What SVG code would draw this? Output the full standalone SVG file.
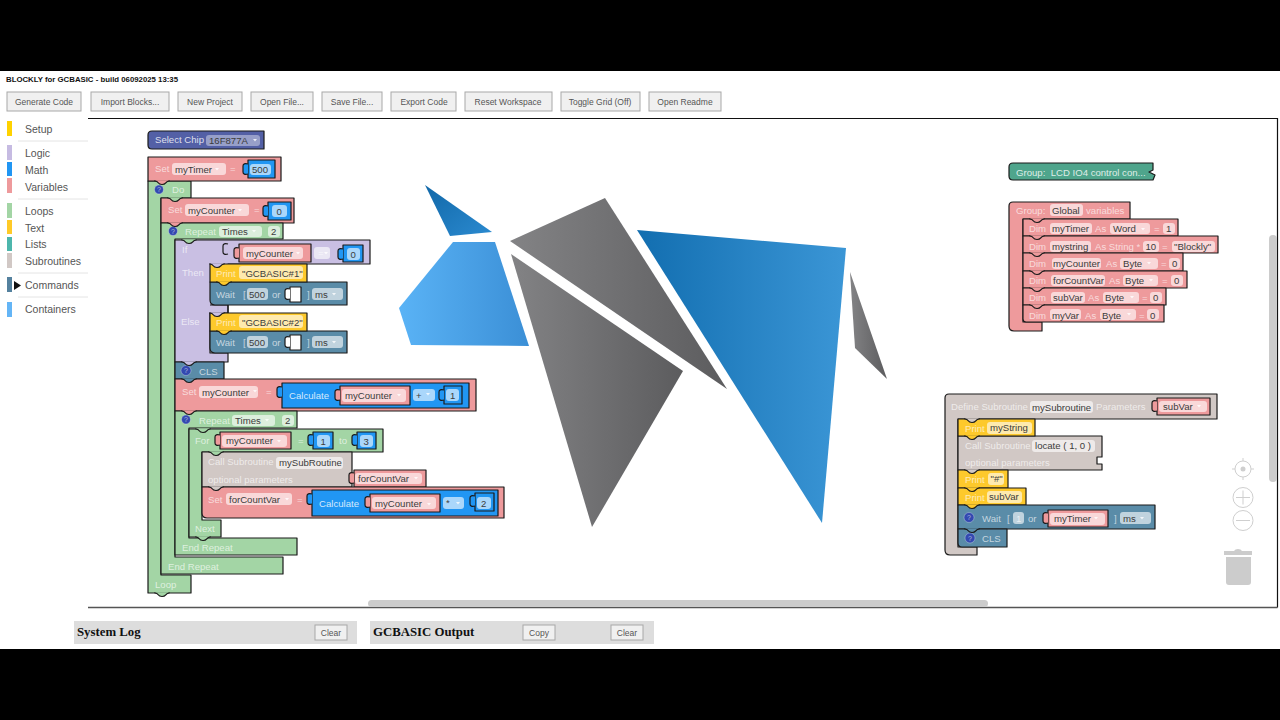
<svg xmlns="http://www.w3.org/2000/svg" width="1280" height="720" viewBox="0 0 1280 720">
<style>
text{font-family:"Liberation Sans",Arial,sans-serif;font-size:9.600px;fill:#3c3c3c}
.k{fill:#fff;fill-opacity:.66}
.c{fill:#fff;fill-opacity:.82}
.b{stroke:#1a1a1a;stroke-width:1.200;stroke-linejoin:round}
.red{fill:#ee9a9c}.grn{fill:#a3d5a5}.pur{fill:#c9bfe3}.yel{fill:#fdc92c}.tea{fill:#5a8ca8}.gry{fill:#d1c8c5}.blu{fill:#2196f3}.ind{fill:#5360a6}.grp{fill:#4fa58c}
.f{fill:#fff;fill-opacity:.62}
.btn{fill:#f0f0f0;stroke:#a8a8a8;stroke-width:1}
.bt{font-size:8.500px;fill:#555;text-anchor:middle}
.tb{font-size:10.500px;fill:#555}
.q{fill:#3349b0;stroke:#fff;stroke-opacity:.3}
.qt{font-size:7px;fill:#fff;fill-opacity:.6;text-anchor:middle}
.sw{width:5px}
.sep{stroke:#e4e4e4;stroke-width:1}
.ctl{fill:none;stroke:#cfcfcf;stroke-width:1}
.h{font-family:"Liberation Serif",serif;font-weight:bold;font-size:12.800px;fill:#111}
</style>
<defs>
<path id="tab" d="M0-.8V0c1.500 0 2.500.7 3.200 1.800S5.300 3.500 7 3.500s3-.7 3.800-1.700S12.500 0 14 0V-.8"/>
<path id="pz" d="M0-1C-3-2-5-1-5 1V7C-5 9-3 10 0 9"/>
<path id="ar" d="M0 0h4l-2 2.500z" fill="#fff" fill-opacity=".8" stroke="none"/>
<linearGradient id="gBlue" x1="0" x2="1" y1="0" y2="0"><stop offset="0" stop-color="#126eb0"/><stop offset="1" stop-color="#3b96d6"/></linearGradient>
<linearGradient id="gHead" x1="0" x2="1" y1="0" y2="0"><stop offset="0" stop-color="#5ab3f6"/><stop offset="1" stop-color="#3b8fd6"/></linearGradient>
<linearGradient id="gHorn" x1="0" x2="1" y1="0" y2="1"><stop offset="0" stop-color="#1168a8"/><stop offset="1" stop-color="#2b8ad0"/></linearGradient>
<linearGradient id="gGray" x1="0" x2="1" y1="0" y2="0"><stop offset="0" stop-color="#838385"/><stop offset="1" stop-color="#5c5c5e"/></linearGradient>
</defs>

<rect width="1280" height="720" fill="#000"/>
<rect y="71" width="1280" height="578" fill="#fff"/>
<text x="6" y="82" font-weight="bold" style="font-size:7.800px;fill:#111">BLOCKLY for GCBASIC - build 06092025 13:35</text>

<g id="toolbar">
<rect class="btn" x="7" y="92" width="74" height="19"/><text class="bt" x="44" y="105">Generate Code</text>
<rect class="btn" x="91" y="92" width="78" height="19"/><text class="bt" x="130" y="105">Import Blocks...</text>
<rect class="btn" x="178" y="92" width="64" height="19"/><text class="bt" x="210" y="105">New Project</text>
<rect class="btn" x="251" y="92" width="62" height="19"/><text class="bt" x="282" y="105">Open File...</text>
<rect class="btn" x="322" y="92" width="60" height="19"/><text class="bt" x="352" y="105">Save File...</text>
<rect class="btn" x="391" y="92" width="65" height="19"/><text class="bt" x="424" y="105">Export Code</text>
<rect class="btn" x="465" y="92" width="87" height="19"/><text class="bt" x="508" y="105">Reset Workspace</text>
<rect class="btn" x="561" y="92" width="79" height="19"/><text class="bt" x="600" y="105">Toggle Grid (Off)</text>
<rect class="btn" x="649" y="92" width="72" height="19"/><text class="bt" x="685" y="105">Open Readme</text>
</g>

<g id="workspace">
<rect x="88" y="118.500" width="1189.500" height="489" fill="#fff"/>
<path d="M88 118.500H1277.500V607.500" fill="none" stroke="#111" stroke-width="1.200"/>
<path d="M88 607.500H1277.500" fill="none" stroke="#555" stroke-width="1.500"/>
<rect x="368" y="600" width="620" height="7" rx="3.500" fill="#ccc"/>
<rect x="1269" y="235" width="8" height="247" rx="4" fill="#ccc"/>
</g>

<g id="toolbox">
<rect class="sw" x="7" y="121" height="15" fill="#ffd200"/><text class="tb" x="25" y="133">Setup</text>
<path class="sep" d="M18 141H88M18 199H88M18 273H88M18 297H88"/>
<rect class="sw" x="7" y="145" height="15" fill="#c6bbe2"/><text class="tb" x="25" y="157">Logic</text>
<rect class="sw" x="7" y="162" height="14" fill="#2196f3"/><text class="tb" x="25" y="174">Math</text>
<rect class="sw" x="7" y="178" height="15" fill="#ee9a9c"/><text class="tb" x="25" y="191">Variables</text>
<rect class="sw" x="7" y="203" height="15" fill="#a3d5a5"/><text class="tb" x="25" y="215">Loops</text>
<rect class="sw" x="7" y="220" height="14" fill="#ffca28"/><text class="tb" x="25" y="232">Text</text>
<rect class="sw" x="7" y="237" height="14" fill="#4db6ac"/><text class="tb" x="25" y="248">Lists</text>
<rect class="sw" x="7" y="253" height="15" fill="#d1c8c5"/><text class="tb" x="25" y="265">Subroutines</text>
<rect class="sw" x="7" y="277" height="15" fill="#54819e"/><path d="M14 281l7 4.500-7 4.500z" fill="#111"/><text class="tb" x="25" y="289">Commands</text>
<rect class="sw" x="7" y="302" height="15" fill="#64b5f6"/><text class="tb" x="25" y="313">Containers</text>
</g>

<g id="logo">
<polygon points="425,185 492,232 450,236" fill="url(#gHorn)"/>
<polygon points="453,242 495,242 529,346 411,345 399,308" fill="url(#gHead)"/>
<polygon points="605,198 727,389 510,241" fill="url(#gGray)"/>
<polygon points="511,254 683,371 592,527" fill="url(#gGray)"/>
<polygon points="637,230 846,248 822,523" fill="url(#gBlue)"/>
<polygon points="850,272 887,379 855,348" fill="url(#gGray)"/>
</g>

<g id="select-chip">
<path class="b ind" d="M152 131H264V149H152Q148 149 148 145V135Q148 131 152 131Z"/>
<text class="c" x="155" y="143">Select Chip</text>
<rect class="f" x="206" y="135" width="54" height="11" rx="3" style="fill-opacity:.4"/><text x="209" y="144">16F877A</text><use href="#ar" x="253" y="139"/>
</g>

<g id="do-loop">
<path class="b grn" d="M148 181H191V198H161V575H191V593H148Z"/>
<circle class="q" cx="159" cy="189.500" r="4.500"/><text class="qt" x="159" y="192">?</text>
<text class="k" x="172" y="193">Do</text>
<text class="k" x="155" y="588">Loop</text>
<use href="#tab" class="b grn" x="155" y="593"/>
</g>

<g id="set-mytimer">
<path class="b red" d="M148 157H281V181H148Z"/>
<text class="k" x="155" y="172">Set</text>
<rect class="f" x="172" y="163" width="54" height="12" rx="3"/><text x="175" y="172.500">myTimer</text><use href="#ar" x="215" y="168"/>
<text class="k" x="230" y="172">=</text>
<path class="b blu" d="M248 160H275V178H248Z"/><use href="#pz" class="b blu" x="248" y="165"/>
<rect class="f" x="250" y="164" width="21" height="11" rx="3"/><text x="252" y="173">500</text>
<use href="#tab" class="b red" x="155" y="181"/>
</g>

<g id="set-mycounter">
<path class="b red" d="M161 198H294V223H161Z"/>
<text class="k" x="168" y="213">Set</text>
<rect class="f" x="185" y="204" width="64" height="12" rx="3"/><text x="188" y="213.500">myCounter</text><use href="#ar" x="238" y="209"/>
<text class="k" x="254" y="213">=</text>
<path class="b blu" d="M268 202H291V220H268Z"/><use href="#pz" class="b blu" x="268" y="207"/>
<rect class="f" x="272" y="205" width="15" height="12" rx="3"/><text x="276.500" y="214.500">0</text>
<use href="#tab" class="b grn" x="168" y="198"/>
</g>

<g id="repeat-outer">
<path class="b grn" d="M161 223H283V239H175V557H283V574H161Z"/>
<circle class="q" cx="173" cy="231" r="4.500"/><text class="qt" x="173" y="233.500">?</text>
<text class="k" x="185" y="235">Repeat</text>
<rect class="f" x="219" y="226" width="43" height="11" rx="3"/><text x="222" y="235">Times</text><use href="#ar" x="252" y="230"/>
<rect class="f" x="268" y="226" width="12" height="11" rx="3"/><text x="271" y="235">2</text>
<text class="k" x="168" y="570">End Repeat</text>
<use href="#tab" class="b red" x="168" y="223"/>
</g>

<g id="if-else">
<path class="b pur" d="M175 240H370V264H228V306H228V313H210V353H228V362H175Z"/>
<text class="k" x="182" y="253">If</text>
<text class="k" x="182" y="276">Then</text>
<text class="k" x="181" y="325">Else</text>
<path d="M209 264H229V305H209Z" class="pur"/>
<path d="M210 305H228V313" fill="none" stroke="#1a1a1a" stroke-width="1.200"/>
<use href="#pz" class="b pur" x="228" y="245"/>
<path class="b red" d="M239 244H311V262H239Z"/><use href="#pz" class="b red" x="239" y="249"/>
<rect class="f" x="243" y="247" width="60" height="12" rx="3"/><text x="246" y="256.500">myCounter</text><use href="#ar" x="296" y="252"/>
<rect class="f" x="314" y="247" width="16" height="12" rx="3"/><text class="k" x="318" y="256">=</text><use href="#ar" x="324" y="252"/>
<path class="b blu" d="M343 245H363V262H343Z"/><use href="#pz" class="b blu" x="343" y="250"/>
<rect class="f" x="347" y="248" width="13" height="12" rx="3"/><text x="350.500" y="257.500">0</text>
<use href="#tab" class="b grn" x="182" y="240"/>
</g>

<g id="wait-1">
<path class="b tea" d="M210 282H347V305H215Q210 305 210 300Z"/>
<text class="k" x="216" y="298">Wait</text><text class="k" x="243" y="298">[</text>
<rect class="f" x="247" y="288" width="21" height="12" rx="3"/><text x="249" y="297.500">500</text>
<text class="k" x="272" y="298">or</text>
<path class="b" fill="#fff" d="M290 287H301V302H290Z"/><use href="#pz" class="b" fill="#fff" x="290" y="290"/>
<text class="k" x="307" y="298">]</text>
<rect class="f" x="312" y="288" width="31" height="12" rx="3"/><text x="315" y="297.500">ms</text><use href="#ar" x="332" y="293"/>
</g>
<g id="print-1">
<path class="b yel" d="M210 264H307V282H210Z"/>
<text class="k" x="216" y="277">Print</text>
<rect class="f" x="239" y="266" width="64" height="13" rx="3"/><text x="242" y="276.500">"GCBASIC#1"</text>
<use href="#tab" class="b yel" x="217" y="282"/>
<use href="#tab" class="b pur" x="210" y="264"/>
</g>

<g id="wait-2">
<path class="b tea" d="M210 331H347V353H215Q210 353 210 348Z"/>
<text class="k" x="216" y="346">Wait</text><text class="k" x="243" y="346">[</text>
<rect class="f" x="247" y="336" width="21" height="12" rx="3"/><text x="249" y="345.500">500</text>
<text class="k" x="272" y="346">or</text>
<path class="b" fill="#fff" d="M290 335H301V350H290Z"/><use href="#pz" class="b" fill="#fff" x="290" y="338"/>
<text class="k" x="307" y="346">]</text>
<rect class="f" x="312" y="336" width="31" height="12" rx="3"/><text x="315" y="345.500">ms</text><use href="#ar" x="332" y="341"/>
</g>
<g id="print-2">
<path class="b yel" d="M210 313H307V331H210Z"/>
<text class="k" x="216" y="326">Print</text>
<rect class="f" x="239" y="315" width="64" height="13" rx="3"/><text x="242" y="325.500">"GCBASIC#2"</text>
<use href="#tab" class="b yel" x="217" y="331"/>
<use href="#tab" class="b pur" x="210" y="313"/>
</g>

<g id="cls-1">
<path class="b tea" d="M175 362H224V379H175Z"/>
<circle class="q" cx="186" cy="370.500" r="5"/><text class="qt" x="186" y="373">?</text>
<text class="k" x="199" y="374.500">CLS</text>
<use href="#tab" class="b pur" x="182" y="362"/>
</g>

<g id="set-mycounter-calc">
<path class="b red" d="M175 379H476V411H175Z"/>
<text class="k" x="182" y="395">Set</text>
<rect class="f" x="199" y="386" width="59" height="12" rx="3"/><text x="202" y="395.500">myCounter</text><use href="#ar" x="253" y="390"/>
<text class="k" x="266" y="395">=</text>
<path class="b blu" d="M282 383H469V408H282Z"/><use href="#pz" class="b blu" x="282" y="388"/>
<text class="c" x="289" y="399">Calculate</text>
<path class="b red" d="M340 386H410V405H340Z"/><use href="#pz" class="b red" x="340" y="391"/>
<rect class="f" x="342" y="389" width="64" height="13" rx="3"/><text x="345" y="399">myCounter</text><use href="#ar" x="397" y="394"/>
<rect class="f" x="413" y="389" width="22" height="12" rx="3"/><text x="416" y="398.500">+</text><use href="#ar" x="426" y="393"/>
<path class="b blu" d="M444 386H462V404H444Z"/><use href="#pz" class="b blu" x="444" y="391"/>
<rect class="f" x="446" y="389" width="13" height="12" rx="3"/><text x="450" y="398.500">1</text>
<use href="#tab" class="b tea" x="182" y="379"/>
</g>

<g id="repeat-inner">
<path class="b grn" d="M175 411H297V428H189V538H297V555H175Z"/>
<circle class="q" cx="186" cy="419.500" r="4.500"/><text class="qt" x="186" y="422">?</text>
<text class="k" x="199" y="423.500">Repeat</text>
<rect class="f" x="232" y="415" width="43" height="11" rx="3"/><text x="235" y="424">Times</text><use href="#ar" x="265" y="419"/>
<rect class="f" x="282" y="415" width="12" height="11" rx="3"/><text x="285" y="424">2</text>
<text class="k" x="182" y="551">End Repeat</text>
<use href="#tab" class="b red" x="182" y="411"/>
</g>

<g id="for-next">
<path class="b grn" d="M189 429H383V452H202V520H221V537H189Z"/>
<text class="k" x="195" y="444">For</text>
<path class="b red" d="M220 432H291V449H220Z"/><use href="#pz" class="b red" x="220" y="436"/>
<rect class="f" x="222" y="435" width="65" height="12" rx="3"/><text x="226" y="444">myCounter</text><use href="#ar" x="277" y="440"/>
<text class="k" x="298" y="444">=</text>
<path class="b blu" d="M313 432H333V449H313Z"/><use href="#pz" class="b blu" x="313" y="436"/>
<rect class="f" x="317" y="435" width="13" height="12" rx="3"/><text x="320.500" y="444.500">1</text>
<text class="k" x="339" y="444">to</text>
<path class="b blu" d="M357 432H376V449H357Z"/><use href="#pz" class="b blu" x="357" y="436"/>
<rect class="f" x="360" y="435" width="13" height="12" rx="3"/><text x="363.500" y="444.500">3</text>
<text class="k" x="195" y="532">Next</text>
<use href="#tab" class="b grn" x="196" y="429"/>
<use href="#tab" class="b grn" x="196" y="537"/>
</g>

<g id="call-mysubroutine">
<path class="b gry" d="M202 452H352V487H202Z"/>
<text class="k" x="208" y="465">Call Subroutine</text>
<rect class="f" x="276" y="457" width="67" height="12" rx="3"/><text x="279" y="466">mySubRoutine</text>
<text class="k" x="208" y="483">optional parameters</text>
<path class="b red" d="M354 470H426V487H354Z"/><use href="#pz" class="b red" x="354" y="474"/>
<rect class="f" x="355" y="473" width="67" height="11" rx="3"/><text x="358" y="482">forCountVar</text><use href="#ar" x="414" y="477"/>
<use href="#tab" class="b grn" x="209" y="452"/>
</g>

<g id="set-forcountvar">
<path class="b red" d="M202 487H504V518H207Q202 518 202 513Z"/>
<text class="k" x="208" y="503">Set</text>
<rect class="f" x="226" y="493" width="66" height="12" rx="3"/><text x="229" y="502.500">forCountVar</text><use href="#ar" x="285" y="498"/>
<text class="k" x="297" y="503">=</text>
<path class="b blu" d="M312 490H498V516H312Z"/><use href="#pz" class="b blu" x="312" y="495"/>
<text class="c" x="319" y="506.500">Calculate</text>
<path class="b red" d="M370 494H440V512H370Z"/><use href="#pz" class="b red" x="370" y="498"/>
<rect class="f" x="372" y="497" width="64" height="12" rx="3"/><text x="375" y="506.500">myCounter</text><use href="#ar" x="427" y="503"/>
<rect class="f" x="443" y="497" width="21" height="12" rx="3"/><text x="446" y="506">*</text><use href="#ar" x="456" y="502"/>
<path class="b blu" d="M475 493H494V511H475Z"/><use href="#pz" class="b blu" x="475" y="497"/>
<rect class="f" x="477" y="497" width="14" height="12" rx="3"/><text x="481" y="506.500">2</text>
<use href="#tab" class="b gry" x="209" y="487"/>
</g>

<g id="group-lcd">
<path class="b grp" d="M1013 163H1153V170L1149 172L1155 175L1153 180H1013Q1009 180 1009 176V167Q1009 163 1013 163Z"/>
<text class="c" x="1016" y="175.500" style="white-space:pre">Group:  LCD IO4 control con...</text>
</g>

<g id="group-global">
<path class="b red" d="M1013 202H1130V219H1023V322H1042V331H1014Q1009 331 1009 326V206Q1009 202 1013 202Z"/>
<text class="k" x="1016" y="214">Group:</text>
<rect class="f" x="1050" y="204" width="33" height="12" rx="3"/><text x="1052" y="213.500">Global</text>
<text class="k" x="1086" y="214">variables</text>
</g>
<g id="dim-mytimer">
<path class="b red" d="M1023 219H1178V236H1023Z"/><text class="k" x="1029" y="232">Dim</text>
<rect class="f" x="1050" y="223" width="42" height="11" rx="3"/><text x="1052" y="232">myTimer</text><text class="k" x="1095" y="232">As</text>
<rect class="f" x="1110" y="223" width="40" height="11" rx="3"/><text x="1113" y="232">Word</text><use href="#ar" x="1141" y="228"/><text class="k" x="1154" y="232">=</text>
<rect class="f" x="1163" y="223" width="12" height="11" rx="3"/><text x="1166" y="232">1</text>
<use href="#tab" class="b red" x="1030" y="219"/>
</g>
<g id="dim-mystring">
<path class="b red" d="M1023 236H1218V253H1023Z"/><text class="k" x="1029" y="249.500">Dim</text>
<rect class="f" x="1050" y="241" width="41" height="11" rx="3"/><text x="1052" y="250">mystring</text><text class="k" x="1095" y="249.500">As String *</text>
<rect class="f" x="1143" y="241" width="16" height="11" rx="3"/><text x="1145.500" y="250">10</text><text class="k" x="1162" y="249.500">=</text>
<rect class="f" x="1172" y="241" width="43" height="11" rx="3"/><text x="1174" y="250">"Blockly"</text>
<use href="#tab" class="b red" x="1030" y="236"/>
</g>
<g id="dim-mycounter">
<path class="b red" d="M1023 253H1183V271H1023Z"/><text class="k" x="1029" y="266.500">Dim</text>
<rect class="f" x="1052" y="258" width="49" height="11" rx="3"/><text x="1053" y="267">myCounter</text><text class="k" x="1106" y="266.500">As</text>
<rect class="f" x="1120" y="258" width="38" height="11" rx="3"/><text x="1123" y="267">Byte</text><use href="#ar" x="1147" y="262"/><text class="k" x="1161" y="266.500">=</text>
<rect class="f" x="1169" y="258" width="11" height="11" rx="3"/><text x="1172" y="267">0</text>
<use href="#tab" class="b red" x="1030" y="253"/>
</g>
<g id="dim-forcountvar">
<path class="b red" d="M1023 271H1187V288H1023Z"/><text class="k" x="1029" y="284">Dim</text>
<rect class="f" x="1051" y="275" width="54" height="11" rx="3"/><text x="1053" y="284">forCountVar</text><text class="k" x="1109" y="284">As</text>
<rect class="f" x="1123" y="275" width="35" height="11" rx="3"/><text x="1125" y="284">Byte</text><use href="#ar" x="1149" y="279"/><text class="k" x="1162" y="284">=</text>
<rect class="f" x="1171" y="275" width="12" height="11" rx="3"/><text x="1174" y="284">0</text>
<use href="#tab" class="b red" x="1030" y="271"/>
</g>
<g id="dim-subvar">
<path class="b red" d="M1023 288H1166V305H1023Z"/><text class="k" x="1029" y="301">Dim</text>
<rect class="f" x="1051" y="292" width="34" height="11" rx="3"/><text x="1053" y="301">subVar</text><text class="k" x="1088" y="301">As</text>
<rect class="f" x="1103" y="292" width="36" height="11" rx="3"/><text x="1105" y="301">Byte</text><use href="#ar" x="1130" y="296"/><text class="k" x="1142" y="301">=</text>
<rect class="f" x="1150" y="292" width="12" height="11" rx="3"/><text x="1153" y="301">0</text>
<use href="#tab" class="b red" x="1030" y="288"/>
</g>
<g id="dim-myvar">
<path class="b red" d="M1023 305H1164V322H1026Q1023 322 1023 319Z"/><text class="k" x="1029" y="318.500">Dim</text>
<rect class="f" x="1050" y="309" width="31" height="11" rx="3"/><text x="1052" y="318.500">myVar</text><text class="k" x="1085" y="318.500">As</text>
<rect class="f" x="1100" y="309" width="36" height="11" rx="3"/><text x="1102" y="318.500">Byte</text><use href="#ar" x="1127" y="313"/><text class="k" x="1139" y="318.500">=</text>
<rect class="f" x="1147" y="309" width="12" height="11" rx="3"/><text x="1150" y="318.500">0</text>
<use href="#tab" class="b red" x="1030" y="305"/>
</g>

<g id="define-subroutine">
<path class="b gry" d="M949 394H1217V419H958V547H977V555H950Q945 555 945 550V398Q945 394 949 394Z"/>
<text class="k" x="951" y="410">Define Subroutine</text>
<rect class="f" x="1030" y="401" width="63" height="12" rx="3"/><text x="1032" y="410.500">mySubroutine</text>
<text class="k" x="1096" y="410">Parameters</text>
<path class="b red" d="M1157 398H1210V415H1157Z"/><use href="#pz" class="b red" x="1157" y="402"/>
<rect class="f" x="1159" y="401" width="48" height="11" rx="3"/><text x="1163" y="410">subVar</text><use href="#ar" x="1197" y="405"/>
</g>
<g id="call-locate">
<path class="b gry" d="M958 436H1102V457H1097V464H1102V470H958Z"/>
<text class="k" x="965" y="448.500">Call Subroutine</text>
<rect class="f" x="1032" y="440" width="63" height="12" rx="3"/><text x="1035" y="449">locate ( 1, 0 )</text>
<text class="k" x="965" y="466">optional parameters</text>
</g>
<g id="print-mystring">
<path class="b yel" d="M958 419H1035V436H958Z"/>
<text class="k" x="965" y="431.500">Print</text>
<rect class="f" x="987" y="422" width="45" height="12" rx="3"/><text x="990" y="431">myString</text>
<use href="#tab" class="b gry" x="965" y="419"/>
<use href="#tab" class="b yel" x="965" y="436"/>
</g>
<g id="print-hash">
<path class="b yel" d="M958 470H1008V488H958Z"/>
<text class="k" x="965" y="483">Print</text>
<rect class="f" x="988" y="473" width="16" height="12" rx="3"/><text x="990.500" y="482">"#"</text>
<use href="#tab" class="b gry" x="965" y="470"/>
</g>
<g id="print-subvar">
<path class="b yel" d="M958 488H1026V505H958Z"/>
<text class="k" x="965" y="501">Print</text>
<rect class="f" x="987" y="491" width="35" height="12" rx="3"/><text x="989" y="500">subVar</text>
<use href="#tab" class="b yel" x="965" y="488"/>
</g>
<g id="wait-mytimer">
<path class="b tea" d="M958 505H1155V529H958Z"/>
<circle class="q" cx="969" cy="517.500" r="5"/><text class="qt" x="969" y="520">?</text>
<text class="k" x="982" y="521.500">Wait</text><text class="k" x="1007" y="521.500">[</text>
<rect class="f" x="1013" y="512" width="11" height="12" rx="3"/><text class="k" x="1016" y="521.500">1</text>
<text class="k" x="1028" y="521.500">or</text>
<path class="b red" d="M1048 510H1108V527H1048Z"/><use href="#pz" class="b red" x="1048" y="514"/>
<rect class="f" x="1050" y="513" width="55" height="12" rx="3"/><text x="1054" y="522">myTimer</text><use href="#ar" x="1094" y="517"/>
<text class="k" x="1114" y="521.500">]</text>
<rect class="f" x="1120" y="512" width="31" height="12" rx="3"/><text x="1123" y="521.500">ms</text><use href="#ar" x="1140" y="517"/>
<use href="#tab" class="b yel" x="965" y="505"/>
</g>
<g id="cls-2">
<path class="b tea" d="M958 529H1007V547H962Q958 547 958 543Z"/>
<circle class="q" cx="970" cy="538" r="5"/><text class="qt" x="970" y="540.500">?</text>
<text class="k" x="982" y="542">CLS</text>
<use href="#tab" class="b tea" x="965" y="529"/>
</g>

<g id="workspace-controls">
<circle class="ctl" cx="1243" cy="469" r="8"/><circle cx="1243" cy="469" r="2.500" fill="#cfcfcf"/>
<path class="ctl" d="M1243 458V461M1243 477V480M1232 469H1235M1251 469H1254"/>
<circle class="ctl" cx="1243" cy="497.500" r="10"/><path class="ctl" d="M1236 497.500H1250M1243 490.500V504.500"/>
<circle class="ctl" cx="1243" cy="520.500" r="10"/><path class="ctl" d="M1236 520.500H1250"/>
<path d="M1224 551H1234Q1235 549 1238 549T1242 551H1252V555H1224Z" fill="#ccc"/>
<path d="M1226 557H1251V582Q1251 585 1248 585H1229Q1226 585 1226 582Z" fill="#ccc"/>
</g>

<g id="panels">
<rect x="74" y="621" width="283" height="23" fill="#ddd"/>
<text class="h" x="77" y="636">System Log</text>
<rect class="btn" x="315" y="625" width="32" height="15"/><text class="bt" x="331" y="635.500">Clear</text>
<rect x="370" y="621" width="284" height="23" fill="#ddd"/>
<text class="h" x="373" y="636">GCBASIC Output</text>
<rect class="btn" x="523" y="625" width="32" height="15"/><text class="bt" x="539" y="635.500">Copy</text>
<rect class="btn" x="611" y="625" width="32" height="15"/><text class="bt" x="627" y="635.500">Clear</text>
</g>
</svg>
